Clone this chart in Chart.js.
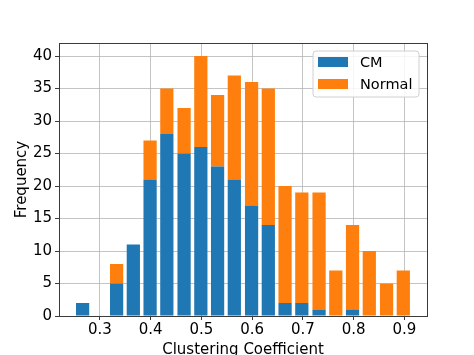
<!DOCTYPE html>
<html>
<head>
<meta charset="utf-8">
<script src="https://cdn.jsdelivr.net/npm/chart.js@4/dist/chart.umd.min.js"></script>
<style>
html,body{margin:0;padding:0;background:#fff;}
#wrap{width:474px;height:355px;position:relative;}
</style>
</head>
<body>
<div id="wrap"><canvas id="c"></canvas></div>
<script>
// Bin centers (clustering coefficient)
const binCenters = [0.266,0.299,0.333,0.366,0.399,0.432,0.466,0.499,0.532,0.565,0.599,0.632,0.665,0.698,0.732,0.765,0.798,0.831,0.865,0.898];
// CM counts per bin
const cmCounts = [2,0,5,11,21,28,25,26,23,21,17,14,2,2,1,0,1,0,0,0];
// Normal counts per bin (stacked on CM)
const normalCounts = [0,0,3,0,6,7,7,14,11,16,19,21,18,17,18,7,13,10,5,7];
const xTicks = [0.3,0.4,0.5,0.6,0.7,0.8,0.9];
const yTicks = [0,5,10,15,20,25,30,35,40];
const seriesNames = ['CM','Normal'];
const xTitle = 'Clustering Coefficient';
const yTitle = 'Frequency';

const FONT = 'DejaVu Sans';
const blue = '#1f77b4', orange = '#ff7f0e';

const toPts = arr => binCenters.map((x,i)=>({x:x, y:arr[i]}));

const frame = {
  id:'frame',
  afterDraw(chart){
    const {ctx, chartArea:a} = chart;
    ctx.save();
    ctx.strokeStyle = '#3a3a3a';
    ctx.lineWidth = 1;
    ctx.strokeRect(Math.round(a.left)+0.5, Math.round(a.top)+0.5, Math.round(a.right-a.left), Math.round(a.bottom-a.top));
    // legend
    const bx=313, by=51, bw=106, bh=46, r=3;
    ctx.fillStyle='rgba(255,255,255,0.85)';
    ctx.strokeStyle='#d0d0d0';
    ctx.beginPath();
    ctx.moveTo(bx+r,by);ctx.lineTo(bx+bw-r,by);ctx.quadraticCurveTo(bx+bw,by,bx+bw,by+r);
    ctx.lineTo(bx+bw,by+bh-r);ctx.quadraticCurveTo(bx+bw,by+bh,bx+bw-r,by+bh);
    ctx.lineTo(bx+r,by+bh);ctx.quadraticCurveTo(bx,by+bh,bx,by+bh-r);
    ctx.lineTo(bx,by+r);ctx.quadraticCurveTo(bx,by,bx+r,by);
    ctx.closePath();ctx.fill();ctx.stroke();
    const ds = chart.data.datasets;
    ctx.font = '14.5px "'+FONT+'"';
    ctx.textBaseline='middle';
    ctx.textAlign='left';
    ds.forEach((d,i)=>{
      const cy = 62 + i*22;
      ctx.fillStyle = d.backgroundColor;
      ctx.fillRect(318, cy-5, 30, 10);
      ctx.fillStyle = '#000';
      ctx.fillText(d.label, 360, cy+1);
    });
    ctx.restore();
  }
};

new Chart(document.getElementById('c'), {
  type:'bar',
  data:{
    datasets:[
      {label:seriesNames[0], data:toPts(cmCounts), backgroundColor:blue, borderWidth:0},
      {label:seriesNames[1], data:toPts(normalCounts), backgroundColor:orange, borderWidth:0}
    ]
  },
  options:{
    responsive:true,
    maintainAspectRatio:false,
    devicePixelRatio:1,
    animation:false,
    layout:{padding:{top:43,right:47,left:0,bottom:0}},
    datasets:{bar:{barPercentage:0.79,categoryPercentage:1.0,grouped:false}},
    plugins:{legend:{display:false},tooltip:{enabled:false}},
    scales:{
      x:{
        type:'linear', stacked:true, min:0.2195, max:0.9447, z:1, offset:false,
        afterBuildTicks(s){ s.ticks = xTicks.map(v=>({value:v})); },
        afterFit(s){ s.height = 39; },
        ticks:{callback:v=>v.toFixed(1), font:{family:FONT,size:15}, color:'#000', padding:1, maxRotation:0, autoSkip:false},
        grid:{offset:false, color:'rgba(176,176,176,0.75)', lineWidth:1, tickLength:4, tickColor:'#3a3a3a', drawTicks:true},
        border:{display:false},
        title:{display:true, text:xTitle, font:{family:FONT,size:15}, color:'#000', padding:{top:0,bottom:-4}}
      },
      y:{
        type:'linear', stacked:true, min:0, max:42, z:1,
        afterBuildTicks(s){ s.ticks = yTicks.map(v=>({value:v})); },
        afterFit(s){ s.width = 59; },
        ticks:{font:{family:FONT,size:15}, color:'#000', padding:3},
        grid:{color:'rgba(176,176,176,0.75)', lineWidth:1, tickLength:4, tickColor:'#3a3a3a'},
        border:{display:false},
        title:{display:true, text:yTitle, font:{family:FONT,size:15}, color:'#000', padding:{top:13,bottom:0}}
      }
    }
  },
  plugins:[frame]
});
</script>
</body>
</html>
